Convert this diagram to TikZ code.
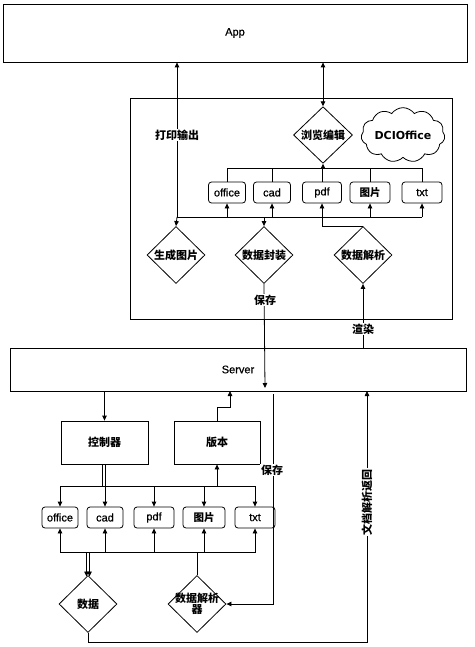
\documentclass[tikz,border=0pt]{standalone}
\usepackage{fontspec}
\setmainfont{Liberation Sans}
\newfontfamily\medsans{Liberation Sans}[FakeBold=0.6]
\newfontfamily\cloudfont{DejaVu Sans}
\newfontfamily\cjk{Noto Sans CJK SC}
\usetikzlibrary{arrows.meta,shapes.geometric,shapes.symbols}
\tikzset{
  lat/.style={font=\medsans\fontsize{11}{13}\selectfont},
  cj/.style={font=\cjk\bfseries\fontsize{11}{13}\selectfont},
  bigbox/.style={draw,line width=0.8pt,inner sep=0pt,lat},
  ftype/.style={draw,fill=white,line width=0.8pt,rounded corners=3pt,minimum height=21pt,inner sep=1pt},
  dia/.style={diamond,draw,fill=white,line width=0.8pt,inner sep=0.5pt,minimum width=58pt,minimum height=57pt,cj},
  ln/.style={line width=0.8pt},
  arr/.style={line width=0.8pt,-{Triangle[length=5pt,width=4.5pt]}},
  lbl/.style={fill=white,inner sep=1pt,cj},
}
\begin{document}
\begin{tikzpicture}[x=1pt,y=-1pt]
\useasboundingbox (0,0) rectangle (474,647);
% main boxes
\node[bigbox,minimum width=464pt,minimum height=58pt] (app) at (235,33) {App};
\node[draw,line width=0.8pt,minimum width=322pt,minimum height=221pt,inner sep=0pt] (cont) at (291,208.5) {};
\node[bigbox,minimum width=456pt,minimum height=43pt] (server) at (238,369.5) {Server};

% upper part
\node[dia,minimum width=59pt,minimum height=56pt] (view) at (323,135) {浏览编辑};
\node[cloud,draw,line width=0.8pt,cloud puffs=11,cloud puff arc=110,aspect=1.8,minimum width=76pt,minimum height=44pt,inner sep=0pt,font=\cloudfont\bfseries\fontsize{11}{13}\selectfont] (cloud) at (403,135) {DCIOffice};

\node[ftype,lat,minimum width=37pt] (uof) at (227,192.5) {office};
\node[ftype,lat,minimum width=37pt] (ucad) at (272,192.5) {cad};
\node[ftype,lat,minimum width=39pt] (updf) at (322,192.5) {pdf};
\node[ftype,font=\cjk\bfseries\fontsize{10.5}{12}\selectfont,minimum width=40pt] (uimg) at (370,192.5) {图片};
\node[ftype,lat,minimum width=40pt] (utxt) at (422,192.5) {txt};

\node[dia] (gen) at (176,255) {生成图片};
\node[dia] (pack) at (264,255) {数据封装};
\node[dia] (parse) at (363,255) {数据解析};

\coordinate (b1l) at (227,168);
\coordinate (b1r) at (422,168);
\coordinate (b2l) at (177,217);
\coordinate (b2r) at (422,217);

% upper bus (boxes -> view)
\draw[ln] (b1l) -- (b1r);
\draw[ln] (uof.north) -- (uof.north |- b1l);
\draw[ln] (ucad.north) -- (ucad.north |- b1l);
\draw[ln] (updf.north) -- (updf.north |- b1l);
\draw[ln] (uimg.north) -- (uimg.north |- b1l);
\draw[ln] (utxt.north) -- (utxt.north |- b1l);
\draw[arr] (view.south |- b1l) -- (view.south);
% App <-> view
\draw[line width=0.8pt,{Triangle[length=5pt,width=4.5pt]}-{Triangle[length=5pt,width=4.5pt]}] (app.south -| view.north) -- (view.north);

% lower bus
\draw[ln] (b2l) -- (b2r);
\draw[arr] (b2l) -- (b2l |- app.south);
\node[lbl] (print) at (177,135) {打印输出};
\draw[arr] (uof.south |- b2l) -- (uof.south);
\draw[arr] (ucad.south |- b2l) -- (ucad.south);
\draw[arr] (uimg.south |- b2l) -- (uimg.south);
\draw[arr] (utxt.south |- b2l) -- (utxt.south);
\draw[arr] (b2l) -- (gen.north);
\draw[arr] (pack.north |- b2l) -- (pack.north);
\draw[arr] (parse.north) -- (updf.south |- parse.north) -- (updf.south);

% to / from server
\coordinate (saveend) at (265,388);
\draw[arr] (pack.south) -- (saveend);
\node[lbl] (save1) at (265,300) {保存};
\draw[arr] (parse.south |- server.north) -- (parse.south);
\node[lbl] (render) at (363,329) {渲染};

% lower part
\node[bigbox,cj,minimum width=87pt,minimum height=43pt] (ctrl) at (104.5,442.5) {控制器};
\node[bigbox,cj,minimum width=86pt,minimum height=43pt] (ver) at (217,442.5) {版本};

\node[ftype,lat,minimum width=36pt] (lof) at (60,517.5) {office};
\node[ftype,lat,minimum width=36pt] (lcad) at (105,517.5) {cad};
\node[ftype,lat,minimum width=40pt] (lpdf) at (154,517.5) {pdf};
\node[ftype,font=\cjk\bfseries\fontsize{10.5}{12}\selectfont,minimum width=42pt] (limg) at (204,517.5) {图片};
\node[ftype,lat,minimum width=40pt] (ltxt) at (255,517.5) {txt};

\node[dia] (data) at (88,604) {数据};
\node[dia] (dp) at (197,604) {};
\node[cj,align=center,inner sep=0pt] (dptext) at (197,604) {数据解析\\[-2pt]器};

\coordinate (b3l) at (60,486);
\coordinate (b3r) at (256,486);
\coordinate (b4l) at (60,552);
\coordinate (b4r) at (256,552);

\draw[arr] (server.south -| ctrl.north) -- (ctrl.north);
\draw[arr] (ver.north) -- (217,407) -- (230,407) -- (230,391);

\draw[ln] (102.5,464) -- (102.5,486);
\draw[ln] (105.5,464) -- (105.5,486);
\draw[ln] (b3l) -- (b3r);
\draw[arr] (b3l) -- (lof.north);
\draw[arr] (lcad.north |- b3l) -- (lcad.north);
\draw[arr] (lpdf.north |- b3l) -- (lpdf.north);
\draw[arr] (limg.north |- b3l) -- (limg.north);
\draw[arr] (ltxt.north |- b3l) -- (ltxt.north);
\draw[arr] (ver.south |- b3l) -- (ver.south);

\draw[ln] (b4l) -- (b4r);
\draw[arr] (b4l) -- (lof.south);
\draw[arr] (lcad.south |- b4l) -- (lcad.south);
\draw[arr] (lpdf.south |- b4l) -- (lpdf.south);
\draw[arr] (limg.south |- b4l) -- (limg.south);
\draw[arr] (ltxt.south |- b4l) -- (ltxt.south);
\draw[arr] (86.5,552) -- (86.5,576.5);
\draw[arr] (89.5,552) -- (89.5,576.5);
\draw[ln] (dp.north |- b4l) -- (dp.north);

\coordinate (s2top) at (273,394);
\draw[arr] (s2top) -- (273,604) -- (dp.east);
\node[lbl] (save2) at (272,470) {保存};

\draw[arr] (data.south) -- (88,642) -- (367,642) -- (367,391);
\node[lbl,rotate=90] (ret) at (367,502) {文档解析返回};
\end{tikzpicture}
\end{document}
